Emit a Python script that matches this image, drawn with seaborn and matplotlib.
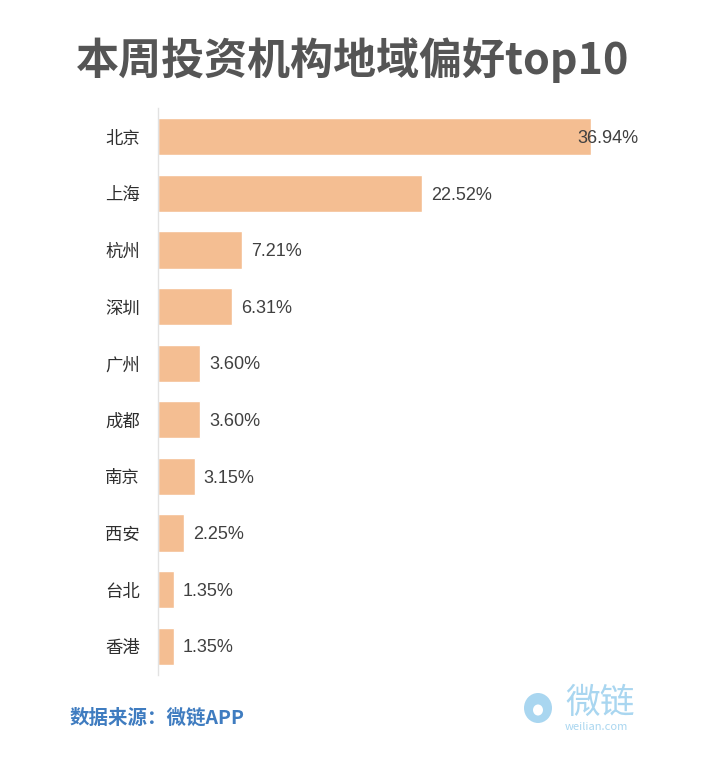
import matplotlib
matplotlib.use('Agg')
import matplotlib.pyplot as plt
import seaborn as sns
import pandas as pd
from matplotlib.patches import Ellipse, Circle

cities = ['北京', '上海', '杭州', '深圳', '广州', '成都', '南京', '西安', '台北', '香港']
shares = [36.94, 22.52, 7.21, 6.31, 3.60, 3.60, 3.15, 2.25, 1.35, 1.35]
labels = ['36.94%', '22.52%', '7.21%', '6.31%', '3.60%', '3.60%', '3.15%', '2.25%', '1.35%', '1.35%']

df = pd.DataFrame({'city': cities, 'share': shares})

sns.set_theme(style='white')
plt.rcParams['font.family'] = ['Noto Sans CJK SC', 'DejaVu Sans']

fig = plt.figure(figsize=(7.05, 7.81), dpi=100)
ax = fig.add_axes([158 / 705, 1 - 674.5 / 781, 532 / 705, (674.5 - 108.5) / 781])

sns.barplot(data=df, x='share', y='city', color='#F4BE92', saturation=1,
            width=0.66, ax=ax, orient='h')
ax.set_xlim(0, 45.4)
ax.set_xlabel('')
ax.set_ylabel('')
ax.set_xticks([])
ax.tick_params(axis='y', length=0, pad=13, labelsize=12.5, labelcolor='#2e2e2e')
for t in ax.get_yticklabels():
    t.set_fontweight('medium')
for s in ['top', 'right', 'bottom']:
    ax.spines[s].set_visible(False)
ax.spines['left'].set_color('#e2e2e2')
ax.spines['left'].set_linewidth(1)

for i, (v, lab) in enumerate(zip(shares, labels)):
    ax.text(min(v + 0.75, 35.8), i + 0.03, lab, va='center', ha='left',
            fontsize=13, color='#404040', family=['Liberation Sans', 'DejaVu Sans'])

fig.text(0.5, 1 - 60 / 781, '本周投资机构地域偏好top10', ha='center', va='center',
         fontsize=31, fontweight='heavy', color='#555555')

fig.text(70 / 705, 1 - 718 / 781, '数据来源：微链APP', ha='left', va='center',
         fontsize=14, fontweight='bold', color='#3f7cc0')

# logo
ic = '#a9d6f0'
fig.patches.append(Ellipse((538 / 705, 1 - 708 / 781), 28 / 705, 30 / 781,
                           transform=fig.transFigure, facecolor=ic, edgecolor='none'))
fig.patches.append(Circle((538 / 705, 1 - 710 / 781), 5 / 705,
                          transform=fig.transFigure, facecolor='white', edgecolor='none'))
fig.text(565 / 705, 1 - 703 / 781, '微链', ha='left', va='center',
         fontsize=25, color=ic, fontweight='light')
fig.text(565 / 705, 1 - 727 / 781, 'weilian.com', ha='left', va='center',
         fontsize=8, color=ic)

fig.savefig('out.png', dpi=100, facecolor='white')
